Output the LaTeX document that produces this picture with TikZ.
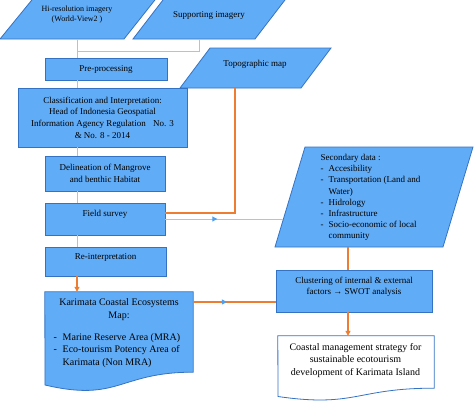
\documentclass[tikz,border=0pt]{standalone}
\usepackage{fontspec}
\setmainfont{Liberation Serif}
\usetikzlibrary{arrows.meta,decorations.markings}
\definecolor{boxfill}{RGB}{97,172,247}
\definecolor{boxline}{RGB}{52,115,195}
\definecolor{salmon}{RGB}{244,177,131}
\definecolor{dorange}{RGB}{237,125,49}
\definecolor{tipblue}{RGB}{80,160,240}
\newcommand\ninept{\fontsize{9}{11.5}\selectfont}
\newcommand\eightpt{\fontsize{8}{10}\selectfont}
\newcommand\tenpt{\fontsize{10}{12.5}\selectfont}
\tikzset{
  box/.style={draw=boxline, fill=boxfill, line width=0.8pt, inner sep=0pt, align=center, font=\ninept},
  shp/.style={draw=boxline, fill=boxfill, line width=0.8pt, line join=miter},
  holder/.style={inner sep=0pt, draw=none},
  txt/.style={inner sep=0pt, align=center, font=\ninept},
  lnk/.style={draw=salmon, line width=0.9pt},
  olnk/.style={draw=dorange, line width=1.1pt},
  midtip/.style={postaction={decorate}, decoration={markings, mark=at position #1 with {\arrow{Triangle[length=5pt,width=5pt,color=tipblue]}}}},
  endtip/.style={-{Triangle[length=5pt,width=5pt]}}
}
\begin{document}
\begin{tikzpicture}[x=1pt,y=-1pt]
\useasboundingbox (0,0) rectangle (474,402);
\coordinate (cx) at (77,0);
% parallelograms
\draw[shp] (33.5,-2) -- (156.5,-2) -- (124,39) -- (0,39) -- cycle;
\draw[shp] (164.5,-2) -- (286.5,-2) -- (255,39) -- (133,39) -- cycle;
\draw[shp] (210,48) -- (331,48) -- (301,88) -- (180,88) -- cycle;
\draw[shp] (305,147) -- (473,147) -- (443,247) -- (275,247) -- cycle;
\coordinate (hrS) at (77,39);
\coordinate (supS) at (199,39);
\coordinate (j1) at (77,51);
\coordinate (topS) at (235,88);
\coordinate (secW) at (283.4,219);
\coordinate (secS) at (348,247);
\node[txt, font=\eightpt] (hrT) at (77,15) {Hi-resolution imagery\\(World-View2 )};
\node[txt] (supT) at (209,15) {Supporting imagery};
\node[txt] (topT) at (255,64) {Topographic map};
\node[txt, anchor=west, align=left, font=\fontsize{9}{11.2}\selectfont] (secT) at (320.5,197.5)
 {Secondary data :\\
  \makebox[8pt][l]{-}Accesibility\\
  \makebox[8pt][l]{-}Transportation (Land and\\
  \hspace*{8pt}Water)\\
  \makebox[8pt][l]{-}Hidrology\\
  \makebox[8pt][l]{-}Infrastructure\\
  \makebox[8pt][l]{-}Socio-economic of local\\
  \hspace*{8pt}community};
% boxes
\node[box, minimum width=122pt, minimum height=22pt] (pre) at (106,69) {Pre-processing};
\node[box, minimum width=169pt, minimum height=59pt, font=\fontsize{9}{11.7}\selectfont] (class) at (102.5,117.5)
 {Classification and Interpretation:\\Head of Indonesia Geospatial\\Information Agency Regulation\hspace{5pt} No. 3\\\& No. 8 - 2014};
\node[box, minimum width=120pt, minimum height=35pt] (delin) at (105,173.5) {Delineation of Mangrove\\and benthic Habitat};
\node[box, minimum width=120pt, minimum height=32pt] (field) at (105,219) {};
\node[txt] (fieldT) at (105,214.5) {Field survey};
\node[box, minimum width=121pt, minimum height=29pt] (reint) at (105.5,261.5) {};
\node[txt] (reintT) at (105.5,257.5) {Re-interpretation};
\node[box, minimum width=156pt, minimum height=42pt] (clust) at (354,291) {};
\node[txt] (clustT) at (354,287) {Clustering of internal \& external\\factors → SWOT analysis};
% document shapes
\node[holder, minimum width=148pt, minimum height=80pt] (kmap) at (119,332) {};
\draw[shp] (kmap.north west) -- (kmap.north east) -- (kmap.south east)
  .. controls (119,372) and (119,402.5) .. (45,385) -- cycle;
\node[txt, font=\tenpt] (kmapT) at (119,309.5) {Karimata Coastal Ecosystems\\Map:};
\node[txt, font=\tenpt, anchor=west, align=left] (kmapL) at (53.5,350.5)
 {\makebox[9pt][l]{-}Marine Reserve Area (MRA)\\
  \makebox[9pt][l]{-}Eco-tourism Potency Area of\\
  \hspace*{9pt}Karimata (Non MRA)};
\coordinate (kmE) at (193,302);
\node[holder, minimum width=156pt, minimum height=52pt] (coast) at (356,362) {};
\draw[draw=boxline, fill=white, line width=0.8pt] (coast.north west) -- (coast.north east) -- (coast.south east)
  .. controls (356,388) and (356,407.8) .. (278,396.5) -- cycle;
\node[txt, font=\tenpt] (coastT) at (355.5,360.5) {Coastal management strategy for\\sustainable ecotourism\\development of Karimata Island};
% connectors
\draw[lnk] (hrS) -- (hrS |- pre.north);
\draw[lnk] (j1) -| (supS);
\draw[lnk] (pre.south -| cx) -- (class.north -| cx);
\draw[lnk] (class.south -| cx) -- (delin.north -| cx);
\draw[lnk] (delin.south -| cx) -- (field.north -| cx);
\draw[lnk] (field.south -| cx) -- (reint.north -| cx);
\draw[olnk, endtip] (reint.south -| cx) -- (kmap.north -| cx);
\draw[olnk] (topS) |- ([yshift=6pt]field.east);
\draw[lnk, midtip=0.44] (field.east) -- (secW);
\draw[olnk, midtip=0.41] (kmE) -- (clust.west |- kmE);
\draw[olnk] (secS) -- (secS |- clust.north);
\draw[olnk, endtip] (clust.south -| secS) -- (secS |- coast.north);
\end{tikzpicture}
\end{document}
